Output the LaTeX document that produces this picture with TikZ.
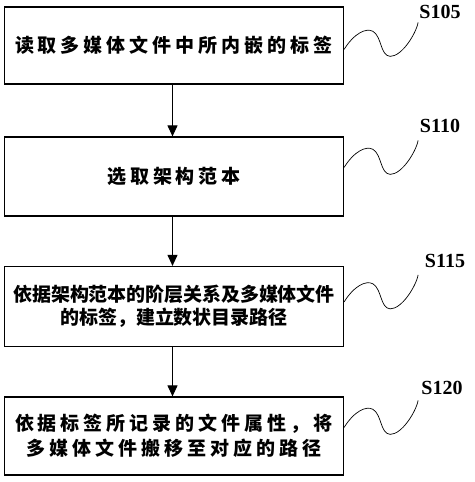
\documentclass[tikz,border=0pt]{standalone}
\usepackage{fontspec}
\newfontfamily\cjk{Noto Sans CJK SC}
\newfontfamily\lbl{Liberation Serif}
\usetikzlibrary{arrows.meta,calc}
\makeatletter
\newcommand\spaced[2]{\@tfor\c:=#2\do{\makebox[#1][c]{\c}}}
\makeatother
\begin{document}
\begin{tikzpicture}[x=1pt,y=-1pt,
  stepbox/.style={draw,line width=1.2pt,minimum width=339pt,inner sep=0pt,
    align=center,font=\cjk\bfseries\fontsize{19}{24}\selectfont},
  flow/.style={line width=1pt,-{Triangle[length=11pt,width=10pt]}},
  steplabel/.style={font=\lbl\bfseries\fontsize{20}{20}\selectfont,inner sep=0pt},
  squig/.style={line width=0.7pt}]
\useasboundingbox (0,0) rectangle (474,482);
\node[stepbox,minimum height=77pt] (b1) at (174,45.5) {\spaced{23pt}{读取多媒体文件中所内嵌的标签}};
\node[stepbox,minimum height=79pt] (b2) at (174,176.5) {\spaced{22.8pt}{选取架构范本}};
\node[stepbox,minimum height=80pt] (b3) at (174,306.5) {\spaced{18.9pt}{依据架构范本的阶层关系及多媒体文件}\\[-1pt]\spaced{18.9pt}{的标签，建立数状目录路径}};
\node[stepbox,minimum height=78pt] (b4) at (174,436) {\spaced{23pt}{依据标签所记录的文件属性，将}\\[1pt]\spaced{23pt}{多媒体文件搬移至对应的路径}};
\draw[flow] (b1.south -| 172.5,0) -- (b2.north -| 172.5,0);
\draw[flow] (b2.south -| 172.5,0) -- (b3.north -| 172.5,0);
\draw[flow] (b3.south -| 172.5,0) -- (b4.north -| 172.5,0);
\node[steplabel] (l1) at (440,12) {S105};
\node[steplabel] (l2) at (440,125.5) {S110};
\node[steplabel] (l3) at (445,261) {S115};
\node[steplabel] (l4) at (442,388) {S120};
\foreach \b/\off/\l in {b1/43/l1,b2/31/l2,b3/36/l3,b4/31/l4}{
  \coordinate (s) at ($(\b.north east)+(0,\off)$);
  \draw[squig] (s) .. controls ($(s)+(10,-16)$) and ($(s)+(22,-22)$) .. ($(s)+(29,-18)$)
    .. controls ($(s)+(38,-12)$) and ($(s)+(36,6)$) .. ($(s)+(46,7)$)
    .. controls ($(s)+(58,7)$) and ($(s)+(72,-16)$) .. ($(s)+(74,-27)$);
}
\end{tikzpicture}
\end{document}
